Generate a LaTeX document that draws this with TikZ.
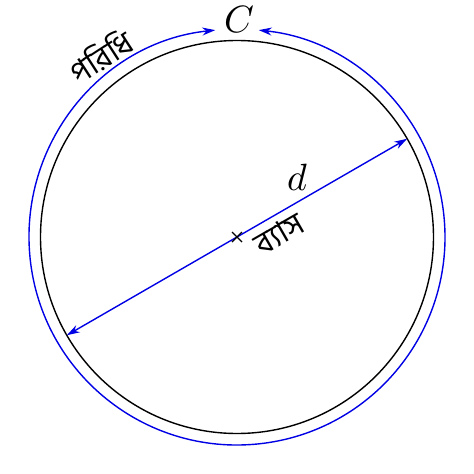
\documentclass[tikz,border=0pt]{standalone}
\usepackage{fontspec}
\newfontfamily\bnfont[Script=Bengali]{Hind Siliguri}
\usetikzlibrary{arrows.meta}
\tikzset{
  blueline/.style={draw=blue!90!black, line width=1.4pt},
  blackline/.style={draw=black, line width=1.4pt},
  bnlabel/.style={font=\bnfont\fontsize{31}{34}\selectfont, inner sep=0pt},
  mathlabel/.style={scale=3.8, inner sep=0pt}
}
\begin{document}
\begin{tikzpicture}[x=1pt,y=1pt]
\useasboundingbox (-237,-237) rectangle (237,237);
\coordinate (O) at (0,0);
% black circle
\draw[blackline] (O) circle[radius=196.5];
% blue circumference arc with arrows at the gap
\draw[blueline, {Stealth[length=13pt,width=8pt]}-{Stealth[length=13pt,width=8pt]}]
  (96:208) arc[start angle=96, end angle=444, radius=208];
% diameter
\coordinate (A) at (210:196.5);
\coordinate (B) at (30:196.5);
\draw[blueline, {Stealth[length=13pt,width=8pt]}-{Stealth[length=13pt,width=8pt]}] (A) -- (B);
% centre mark
\draw[black, line width=1.2pt] ([shift={(-5,-5)}]O) -- ([shift={(5,5)}]O)
  ([shift={(-5,5)}]O) -- ([shift={(5,-5)}]O);
% labels
\node[mathlabel] (C) at (2,217) {$C$};
\node[mathlabel] (d) at (60,60) {$d$};
\node[bnlabel, rotate=30] (byas) at (42,3) {ব্যাস};
\node[bnlabel, rotate=33] (paridhi) at (-136,181) {পরিধি};
\end{tikzpicture}
\end{document}
